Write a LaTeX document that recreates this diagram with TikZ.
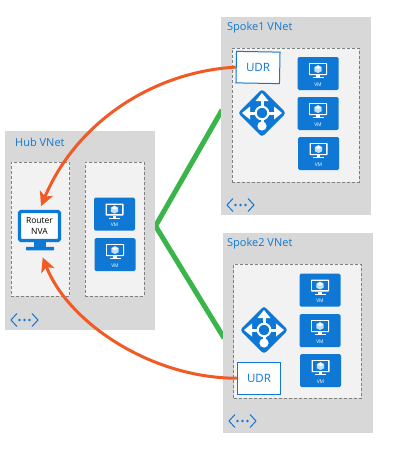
\documentclass[tikz,border=0pt]{standalone}
\usepackage{fontspec}
\setmainfont{Open Sans}
\usetikzlibrary{arrows.meta}
\definecolor{azure}{HTML}{0F78D4}
\definecolor{panelgray}{HTML}{D8D8D8}
\definecolor{subgray}{HTML}{F2F2F2}
\definecolor{dashgray}{HTML}{7F7F7F}
\definecolor{linkgreen}{HTML}{39B54A}
\definecolor{routeorange}{HTML}{F15A24}
\definecolor{screenblue}{HTML}{BFE0F5}
\tikzset{
  panel/.style={rectangle,fill=panelgray,draw=none,inner sep=0pt,minimum width=150pt},
  subnet/.style={rectangle,fill=subgray,draw=dashgray,densely dashed,line width=0.8pt,inner sep=0pt},
  title/.style={anchor=west,inner sep=0pt,text=azure,font=\fontsize{11}{13}\selectfont},
  udrbox/.style={rectangle,fill=white,draw=azure,line width=1pt,inner sep=0pt,minimum width=43.5pt,minimum height=31.5pt,text=azure,font=\fontsize{11.5}{13}\selectfont},
  peer/.style={line width=5pt,draw=linkgreen,line join=miter},
  route/.style={line width=3pt,draw=routeorange,-{Stealth[length=14pt,width=14pt,inset=3.5pt]}},
  vmbox/.style={rectangle,fill=azure,rounded corners=1.5pt,inner sep=0pt,minimum width=41pt,minimum height=33pt},
  vm/.pic={
    \node[vmbox] (-box) at (0,0) {};
    \fill[white,rounded corners=0.6pt] (-9,-10.5) rectangle (9,1.5);
    \fill[azure] (-7.7,-9.2) rectangle (7.7,0.2);
    \fill[white] (-1.6,1.5) rectangle (1.6,3.6);
    \fill[white] (-5.5,3.6) rectangle (5.5,4.6);
    \fill[screenblue] (0,-8.4) -- (3.6,-6.4) -- (3.6,-2.3) -- (0,-0.4) -- (-3.6,-2.3) -- (-3.6,-6.4) -- cycle;
    \fill[white] (0,-7.8) -- (3.1,-6.1) -- (0,-4.4) -- (-3.1,-6.1) -- cycle;
    \node[inner sep=0pt,text=white,font=\fontsize{5}{6}\selectfont] (-lbl) at (0,11.2) {VM};
  },
  gateway/.pic={
    \fill[azure,rounded corners=3pt] (0,-24) -- (24,0) -- (0,24) -- (-24,0) -- cycle;
    \draw[white,line width=3pt] (-15,0) -- (15,0) (0,-15) -- (0,13);
    \fill[white] (0,-20) -- (6.5,-12) -- (-6.5,-12) -- cycle;
    \fill[white] (-20,0) -- (-12,-6.5) -- (-12,6.5) -- cycle;
    \fill[white] (20,0) -- (12,-6.5) -- (12,6.5) -- cycle;
    \fill[white] (0,13) circle (4.6pt);
    \fill[azure,draw=white,line width=2pt] (0,0) circle (6.3pt);
  },
  vneticon/.pic={
    \draw[azure,line width=1pt,line join=miter] (-7.5,-6.5) -- (-13.5,0) -- (-7.5,6.5);
    \draw[azure,line width=1pt,line join=miter] (7.5,-6.5) -- (13.5,0) -- (7.5,6.5);
    \fill[azure] (-5,0) circle (1.3pt) (0,0) circle (1.3pt) (5,0) circle (1.3pt);
  }
}
\begin{document}
\begin{tikzpicture}[x=1pt,y=-1pt]
\useasboundingbox[fill=white] (0,0) rectangle (409,450);
% panels are named first, the links pass behind them
\coordinate (fork) at (155.5,226);
\coordinate (s1end) at (222,110);
\coordinate (s2end) at (224,338);
\draw[peer] (s1end) -- (fork) -- (s2end);

\node[panel,minimum height=199pt] (hub) at (80,230.5) {};
\node[panel,minimum height=198pt] (spoke1) at (296,116) {};
\node[panel,minimum height=200pt] (spoke2) at (298,333) {};

\node[title] (hubt) at (15,142) {Hub VNet};
\node[title] (s1t) at (227,28) {Spoke1 VNet};
\node[title] (s2t) at (227,244) {Spoke2 VNet};

\node[subnet,minimum width=58.5pt,minimum height=134pt] (hl) at (40.25,229) {};
\node[subnet,minimum width=59pt,minimum height=134pt] (hr) at (114.5,229) {};
\node[subnet,minimum width=127pt,minimum height=134pt] (s1n) at (295.5,115) {};
\node[subnet,minimum width=127.5pt,minimum height=134pt] (s2n) at (297.25,331) {};

\pic (vma) at (114.5,214) {vm};
\pic (vmb) at (115,254.5) {vm};
\pic (vmc) at (318,73.5) {vm};
\pic (vmd) at (318,113.5) {vm};
\pic (vme) at (318.5,153.5) {vm};
\pic (vmf) at (320,290) {vm};
\pic (vmg) at (320,330.5) {vm};
\pic (vmh) at (320.5,370.5) {vm};

\pic at (262,113) {gateway};
\pic at (264,330) {gateway};

\pic at (24.5,320) {vneticon};
\pic at (240.5,205) {vneticon};
\pic at (242.5,421) {vneticon};

% router monitor
\fill[azure] (34,241) rectangle (46,248);
\node[rectangle,fill=azure,rounded corners=0.5pt,inner sep=0pt,minimum width=28pt,minimum height=3.5pt] (rbase) at (40,248.5) {};
\node[rectangle,fill=white,draw=azure,line width=3.2pt,rounded corners=1.5pt,inner sep=0pt,minimum width=40pt,minimum height=29pt,align=center,text=black,font=\fontsize{8.5}{11}\selectfont] (router) at (39.5,226) {Router\\NVA};

\node[udrbox,rotate=-1] (udra) at (258,67.5) {UDR};
\node[udrbox] (udrb) at (259,378.25) {UDR};

\draw[route,shorten >=4pt] (udra.west) .. controls (150,72) and (75,125) .. (router.north);
\draw[route,shorten >=7.5pt] (udrb.west) .. controls (150,378) and (68,322) .. (rbase.south);
\end{tikzpicture}
\end{document}
